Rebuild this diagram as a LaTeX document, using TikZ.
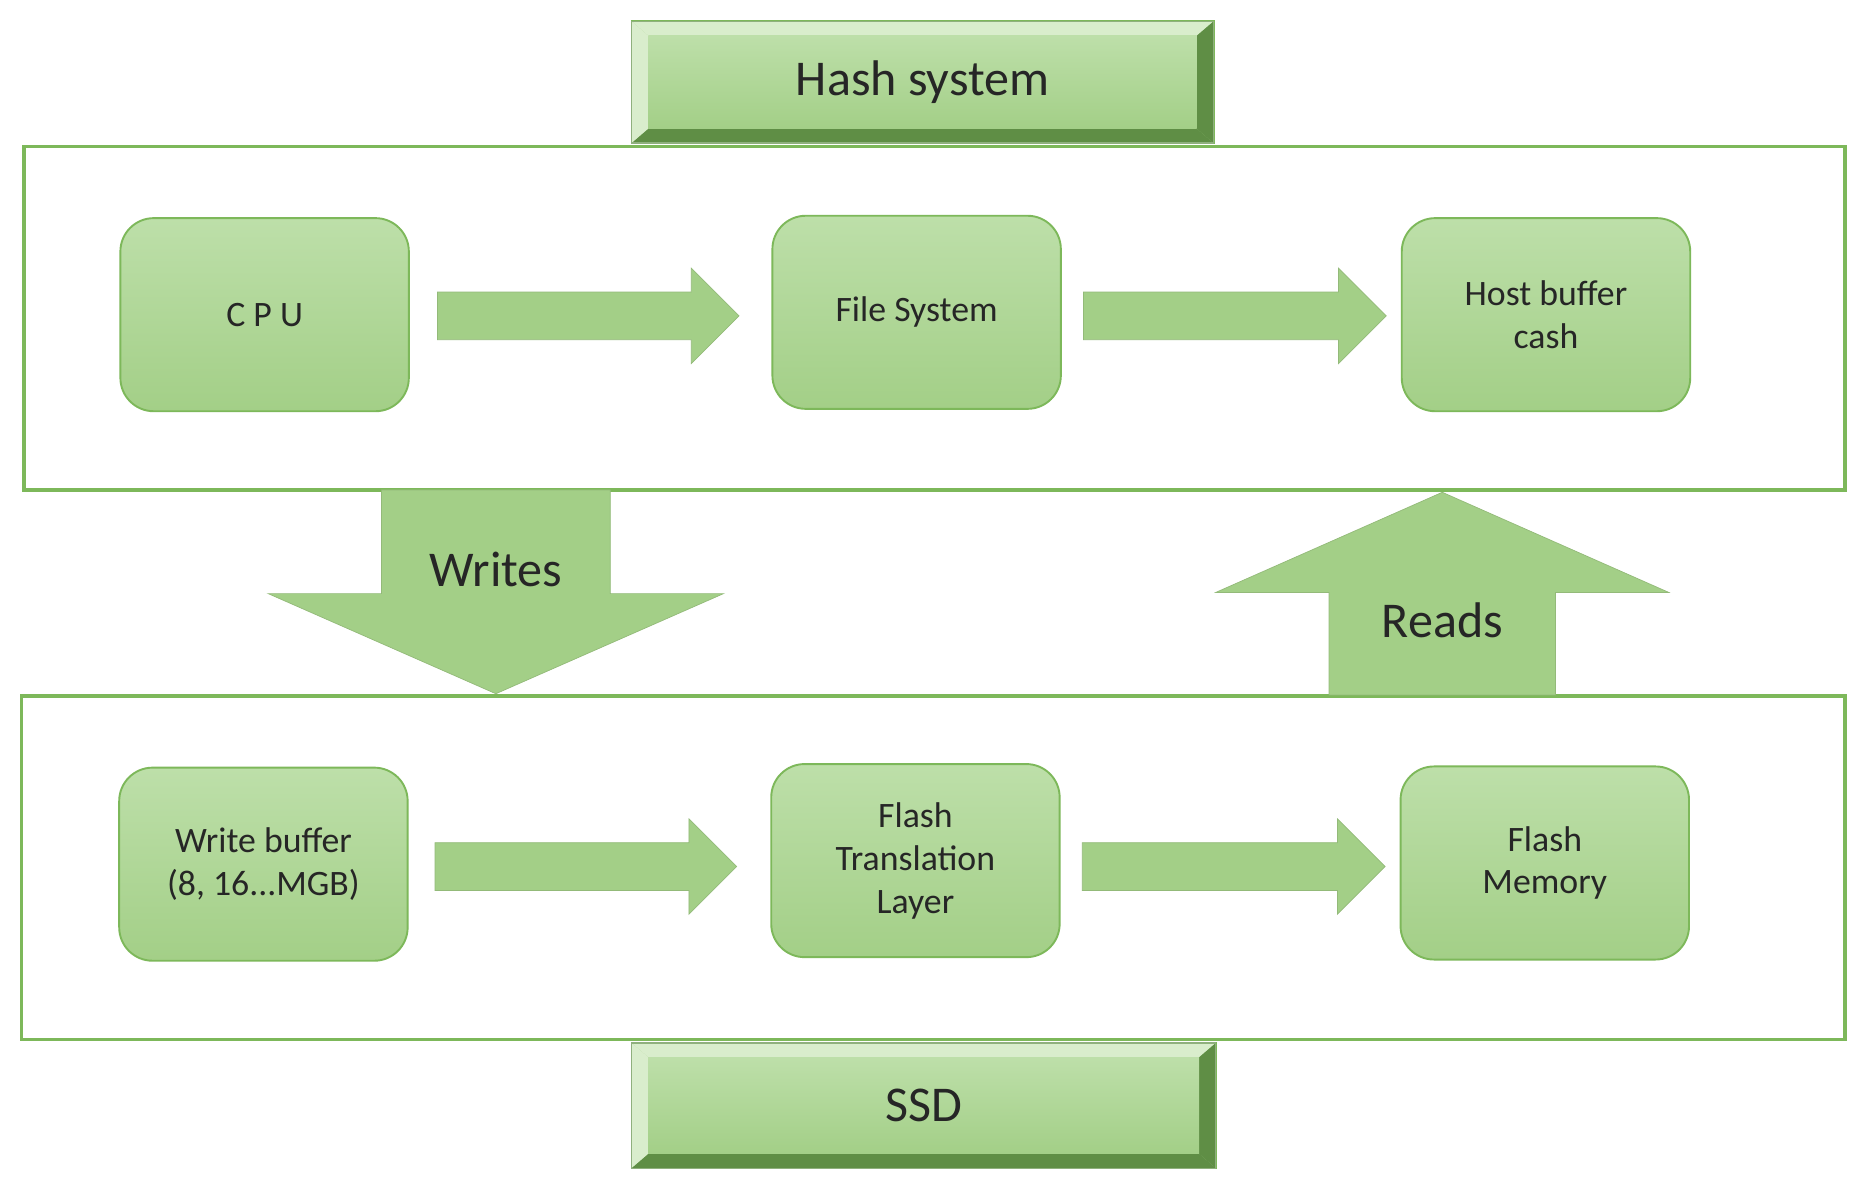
\documentclass[tikz,border=0pt]{standalone}
\usepackage{fontspec}
\setmainfont{Carlito}
\begin{document}
\begin{tikzpicture}[x=0.5pt,y=-0.5pt,
  frame/.style={draw=gBorder,line width=1.5pt,fill=white},
  box/.style={draw=gBorder,line width=0.8pt,rounded corners=14pt,top color=gLight,bottom color=gMid},
  blk/.style={fill=gMid,draw=gMid!90!black,line width=0.3pt},
  lbl/.style={font=\fontsize{15}{18}\selectfont,align=center,text=black!85},
  big/.style={font=\fontsize{21}{24}\selectfont,text=black!85}]
\definecolor{gLight}{HTML}{BDDFA9}
\definecolor{gMid}{HTML}{A3CF87}
\definecolor{gBorder}{HTML}{7DB85A}
\definecolor{gDark}{HTML}{5F8E45}
\definecolor{gHi}{HTML}{D9EDCC}
\useasboundingbox (0,0) rectangle (1568,997);
% banners
\newcommand{\banner}[5]{%
  \fill[gMid,draw=gBorder,line width=1pt] (#1,#2) rectangle (#3,#4);
  \fill[gHi] (#1,#2)--(#3,#2)--(#3-14,#2+12)--(#1+14,#2+12)--cycle;
  \fill[gHi] (#1,#2)--(#1+14,#2+12)--(#1+14,#4-12)--(#1,#4)--cycle;
  \fill[gDark] (#3,#2)--(#3,#4)--(#3-14,#4-12)--(#3-14,#2+12)--cycle;
  \fill[gDark] (#1,#4)--(#3,#4)--(#3-14,#4-12)--(#1+14,#4-12)--cycle;
  \shade[top color=gLight,bottom color=gMid] (#1+14,#2+12) rectangle (#3-14,#4-12);
  \draw[gDark!70,line width=0.5pt] (#1,#2) rectangle (#3,#4);
  \node[big] at ({(#1+#3)/2},{(#2+#4)/2}) {#5};}
\banner{530}{18}{1018}{120}{Hash system}
\draw[frame] (20,123) rectangle (1548,411);
\draw[frame] (18,584) rectangle (1548,872);
\banner{530}{875}{1020}{980}{SSD}
% boxes
\node[box,lbl,minimum width=121pt,minimum height=81pt] (cpu) at (222,264) {C P U};
\node[box,lbl,minimum width=121pt,minimum height=81pt] (fs) at (769,262) {File System};
\node[box,lbl,minimum width=121pt,minimum height=81pt] (hb) at (1297,264) {Host buffer\\cash};
\node[box,lbl,minimum width=121pt,minimum height=81pt] (wb) at (221,725) {Write buffer\\(8, 16...MGB)};
\node[box,lbl,minimum width=121pt,minimum height=81pt] (ftl) at (768,722) {Flash\\Translation\\Layer};
\node[box,lbl,minimum width=121pt,minimum height=81pt] (fm) at (1296,724) {Flash\\Memory};
% horizontal block arrows
\newcommand{\harrow}[3]{\fill[blk] (#1,#3-20)--(#2-40,#3-20)--(#2-40,#3-40)--(#2,#3)--(#2-40,#3+40)--(#2-40,#3+20)--(#1,#3+20)--cycle;}
\harrow{367}{620}{265}
\harrow{909}{1163}{265}
\harrow{365}{618}{727}
\harrow{908}{1162}{727}
% writes
\fill[blk] (320,411)--(512,411)--(512,498)--(607,498)--(416,582)--(225,498)--(320,498)--cycle;
\node[big] (w) at (416,478) {Writes};
% reads
\fill[blk] (1115,583)--(1305,583)--(1305,497)--(1400,497)--(1210,413)--(1020,497)--(1115,497)--cycle;
\node[big] (r) at (1210,520) {Reads};
\end{tikzpicture}
\end{document}
